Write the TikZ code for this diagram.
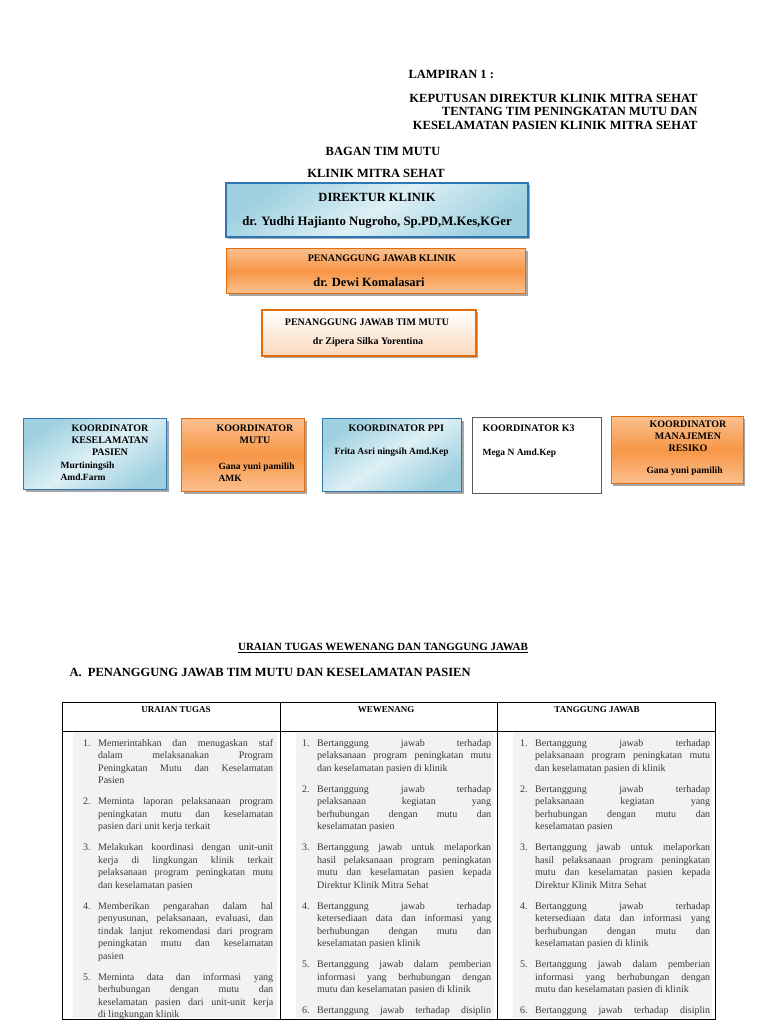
\documentclass[tikz,border=0pt]{standalone}
\usepackage{fontspec}
\setmainfont{Liberation Serif}
\usetikzlibrary{shadows}

\definecolor{biruTepi}{HTML}{2F75B5}
\definecolor{biruMuda}{HTML}{9FD0E0}
\definecolor{biruTerang}{HTML}{DDF0F5}
\definecolor{oranyeTua}{HTML}{F79646}
\definecolor{oranyeMuda}{HTML}{FBC08F}
\definecolor{oranyePucat}{HTML}{FBD9BD}
\definecolor{oranyeTepi}{HTML}{E46C0A}
\definecolor{abuSel}{HTML}{F2F2F2}
\definecolor{teksIsi}{HTML}{3A3A3A}

\newcommand{\hurufjudul}{\fontsize{12.5}{14}\selectfont\bfseries}
\newcommand{\hurufkotak}{\fontsize{10}{12}\selectfont\bfseries}
\newcommand{\hurufnama}{\fontsize{9.5}{12}\selectfont\bfseries}
\newcommand{\hurufisi}{\fontsize{10}{12.5}\selectfont}
\newcommand{\butir}[2]{\par\hangindent=15pt\hangafter=1\noindent\hbox to 15pt{#1.\hfil}#2\par}

\tolerance=10000
\hbadness=10000
\hfuzz=20pt
\hyphenpenalty=10000

\tikzset{
  bayangan/.style={drop shadow={shadow xshift=2pt,shadow yshift=-2pt,fill=black,opacity=0.35}},
  kotakbiru/.style={draw=biruTepi,line width=1.8pt,top color=biruMuda,bottom color=biruMuda,
    middle color=biruTerang,shading angle=35,bayangan},
  kotakoranye/.style={draw=oranyeTepi,line width=0.8pt,top color=oranyeMuda,bottom color=oranyeMuda,
    middle color=oranyeTua,bayangan},
  kotakpucat/.style={draw=oranyeTepi,line width=1.8pt,top color=white,bottom color=oranyePucat,bayangan},
  kotakputih/.style={draw=black!65,line width=1pt,fill=white},
  isisel/.style={anchor=north west,inner sep=0pt,align=justify,font=\hurufisi,text=teksIsi},
  kepala/.style={font=\fontsize{9}{11}\selectfont\bfseries},
  garistabel/.style={draw=black,line width=0.9pt}
}

\begin{document}
\begin{tikzpicture}[x=1pt,y=-1pt]
  \useasboundingbox (0,0) rectangle (768,1024);
  \fill[white] (0,0) rectangle (768,1024);

  % judul lampiran
  \node[anchor=west,font=\hurufjudul] (lampiran) at (405,74) {LAMPIRAN 1 :};
  \node[anchor=east,font=\hurufjudul] (keputusan1) at (701,98) {KEPUTUSAN DIREKTUR KLINIK MITRA SEHAT};
  \node[anchor=east,font=\hurufjudul] (keputusan2) at (701,111.5) {TENTANG TIM PENINGKATAN MUTU DAN};
  \node[anchor=east,font=\hurufjudul] (keputusan3) at (701,125) {KESELAMATAN PASIEN KLINIK MITRA SEHAT};
  \node[font=\hurufjudul] (bagan) at (383,151) {BAGAN TIM MUTU};
  \node[font=\hurufjudul] (klinik) at (376,173) {KLINIK MITRA SEHAT};

  % bagan
  \node[kotakbiru,minimum width=302,minimum height=54] (direktur) at (377,210) {};
  \node[font=\hurufjudul] (direkturA) at (377,197) {DIREKTUR KLINIK};
  \node[font=\fontsize{12.8}{14}\selectfont\bfseries] (direkturB) at (377,222) {dr. Yudhi Hajianto Nugroho, Sp.PD,M.Kes,KGer};

  \node[kotakoranye,minimum width=299,minimum height=45] (pjklinik) at (376,271) {};
  \node[font=\hurufkotak] (pjklinikA) at (382,258) {PENANGGUNG JAWAB KLINIK};
  \node[font=\hurufjudul] (pjklinikB) at (369,282) {dr. Dewi Komalasari};

  \node[kotakpucat,minimum width=214,minimum height=46] (pjmutu) at (369,333) {};
  \node[font=\hurufkotak] (pjmutuA) at (367,322) {PENANGGUNG JAWAB TIM MUTU};
  \node[font=\hurufkotak] (pjmutuB) at (368,342) {dr Zipera Silka Yorentina};

  \node[kotakbiru,minimum width=143,minimum height=71] (kkp) at (95,454) {};
  \node[font=\hurufkotak,align=center] (kkpA) at (110,440) {KOORDINATOR\\KESELAMATAN\\PASIEN};
  \node[font=\hurufnama,anchor=west,align=left] (kkpB) at (57,471) {Murtiningsih\\Amd.Farm};

  \node[kotakoranye,minimum width=123,minimum height=73] (kmutu) at (243,455) {};
  \node[font=\hurufkotak,align=center] (kmutuA) at (255,434) {KOORDINATOR\\MUTU};
  \node[font=\hurufnama,anchor=west,align=left] (kmutuB) at (215,472) {Gana yuni pamilih\\AMK};

  \node[kotakbiru,minimum width=139,minimum height=73] (kppi) at (392,455) {};
  \node[font=\hurufkotak,anchor=west] (kppiA) at (345,428) {KOORDINATOR PPI};
  \node[font=\hurufnama,anchor=west] (kppiB) at (331,452) {Frita Asri ningsih Amd.Kep};

  \node[kotakputih,minimum width=129,minimum height=76] (kk3) at (537,455) {};
  \node[font=\hurufkotak,anchor=west] (kk3A) at (479,428) {KOORDINATOR K3};
  \node[font=\hurufnama,anchor=west] (kk3B) at (479,453) {Mega N Amd.Kep};

  \node[kotakoranye,minimum width=132,minimum height=67] (kmr) at (677,450) {};
  \node[font=\hurufkotak,align=center] (kmrA) at (688,436) {KOORDINATOR\\MANAJEMEN\\RESIKO};
  \node[font=\hurufnama,anchor=west] (kmrB) at (643,471) {Gana yuni pamilih};

  % uraian tugas
  \node[font=\fontsize{11}{13}\selectfont\bfseries] (uraian) at (383,648) {\underline{URAIAN TUGAS WEWENANG DAN TANGGUNG JAWAB}};
  \node[anchor=west,font=\hurufjudul] (bagianA) at (66,672) {A.\enspace PENANGGUNG JAWAB TIM MUTU DAN KESELAMATAN PASIEN};

  \coordinate (tabelA) at (62,702);
  \coordinate (tabelB) at (715,1019);
  \coordinate (kepalaB) at (62,731);

  \begin{scope}
    \clip (62,731) rectangle (715,1018);
    \fill[abuSel] (73,733) rectangle (277,1018);
    \fill[abuSel] (296,733) rectangle (494,1018);
    \fill[abuSel] (513,733) rectangle (712,1018);

    \node[isisel,text width=190] (kolom1) at (83,725) {\setlength{\parskip}{8.5pt}%
      \butir{1}{Memerintahkan dan menugaskan staf\linebreak dalam melaksanakan Program\linebreak Peningkatan Mutu dan Keselamatan\linebreak Pasien}
      \butir{2}{Meminta laporan pelaksanaan program\linebreak peningkatan mutu dan keselamatan\linebreak pasien dari unit kerja terkait}
      \butir{3}{Melakukan koordinasi dengan unit-unit\linebreak kerja di lingkungan klinik terkait\linebreak pelaksanaan program peningkatan mutu\linebreak dan keselamatan pasien}
      \butir{4}{Memberikan pengarahan dalam hal\linebreak penyusunan, pelaksanaan, evaluasi, dan\linebreak tindak lanjut rekomendasi dari program\linebreak peningkatan mutu dan keselamatan\linebreak pasien}
      \butir{5}{Meminta data dan informasi yang\linebreak berhubungan dengan mutu dan\linebreak keselamatan pasien dari unit-unit kerja\linebreak di lingkungan klinik}};

    \node[isisel,text width=189] (kolom2) at (302,725) {\setlength{\parskip}{8.5pt}%
      \butir{1}{Bertanggung jawab terhadap\linebreak pelaksanaan program peningkatan mutu\linebreak dan keselamatan pasien di klinik}
      \butir{2}{Bertanggung jawab terhadap\linebreak pelaksanaan kegiatan yang\linebreak berhubungan dengan mutu dan\linebreak keselamatan pasien}
      \butir{3}{Bertanggung jawab untuk melaporkan\linebreak hasil pelaksanaan program peningkatan\linebreak mutu dan keselamatan pasien kepada\linebreak Direktur Klinik Mitra Sehat}
      \butir{4}{Bertanggung jawab terhadap\linebreak ketersediaan data dan informasi yang\linebreak berhubungan dengan mutu dan\linebreak keselamatan pasien klinik}
      \butir{5}{Bertanggung jawab dalam pemberian\linebreak informasi yang berhubungan dengan\linebreak mutu dan keselamatan pasien di klinik}
      \butir{6}{Bertanggung jawab terhadap disiplin\linebreak\mbox{}}};

    \node[isisel,text width=190] (kolom3) at (520,725) {\setlength{\parskip}{8.5pt}%
      \butir{1}{Bertanggung jawab terhadap\linebreak pelaksanaan program peningkatan mutu\linebreak dan keselamatan pasien di klinik}
      \butir{2}{Bertanggung jawab terhadap\linebreak pelaksanaan kegiatan yang\linebreak berhubungan dengan mutu dan\linebreak keselamatan pasien}
      \butir{3}{Bertanggung jawab untuk melaporkan\linebreak hasil pelaksanaan program peningkatan\linebreak mutu dan keselamatan pasien kepada\linebreak Direktur Klinik Mitra Sehat}
      \butir{4}{Bertanggung jawab terhadap\linebreak ketersediaan data dan informasi yang\linebreak berhubungan dengan mutu dan\linebreak keselamatan pasien di klinik}
      \butir{5}{Bertanggung jawab dalam pemberian\linebreak informasi yang berhubungan dengan\linebreak mutu dan keselamatan pasien di klinik}
      \butir{6}{Bertanggung jawab terhadap disiplin\linebreak\mbox{}}};
  \end{scope}

  \draw[garistabel] (tabelA) rectangle (tabelB);
  \draw[garistabel] (kepalaB) -- (kepalaB -| tabelB);
  \draw[garistabel] (280,702) -- (280,1019);
  \draw[garistabel] (497,702) -- (497,1019);

  \node[kepala] (kepala1) at (176,710) {URAIAN TUGAS};
  \node[kepala] (kepala2) at (386,710) {WEWENANG};
  \node[kepala] (kepala3) at (597,710) {TANGGUNG JAWAB};
\end{tikzpicture}
\end{document}
